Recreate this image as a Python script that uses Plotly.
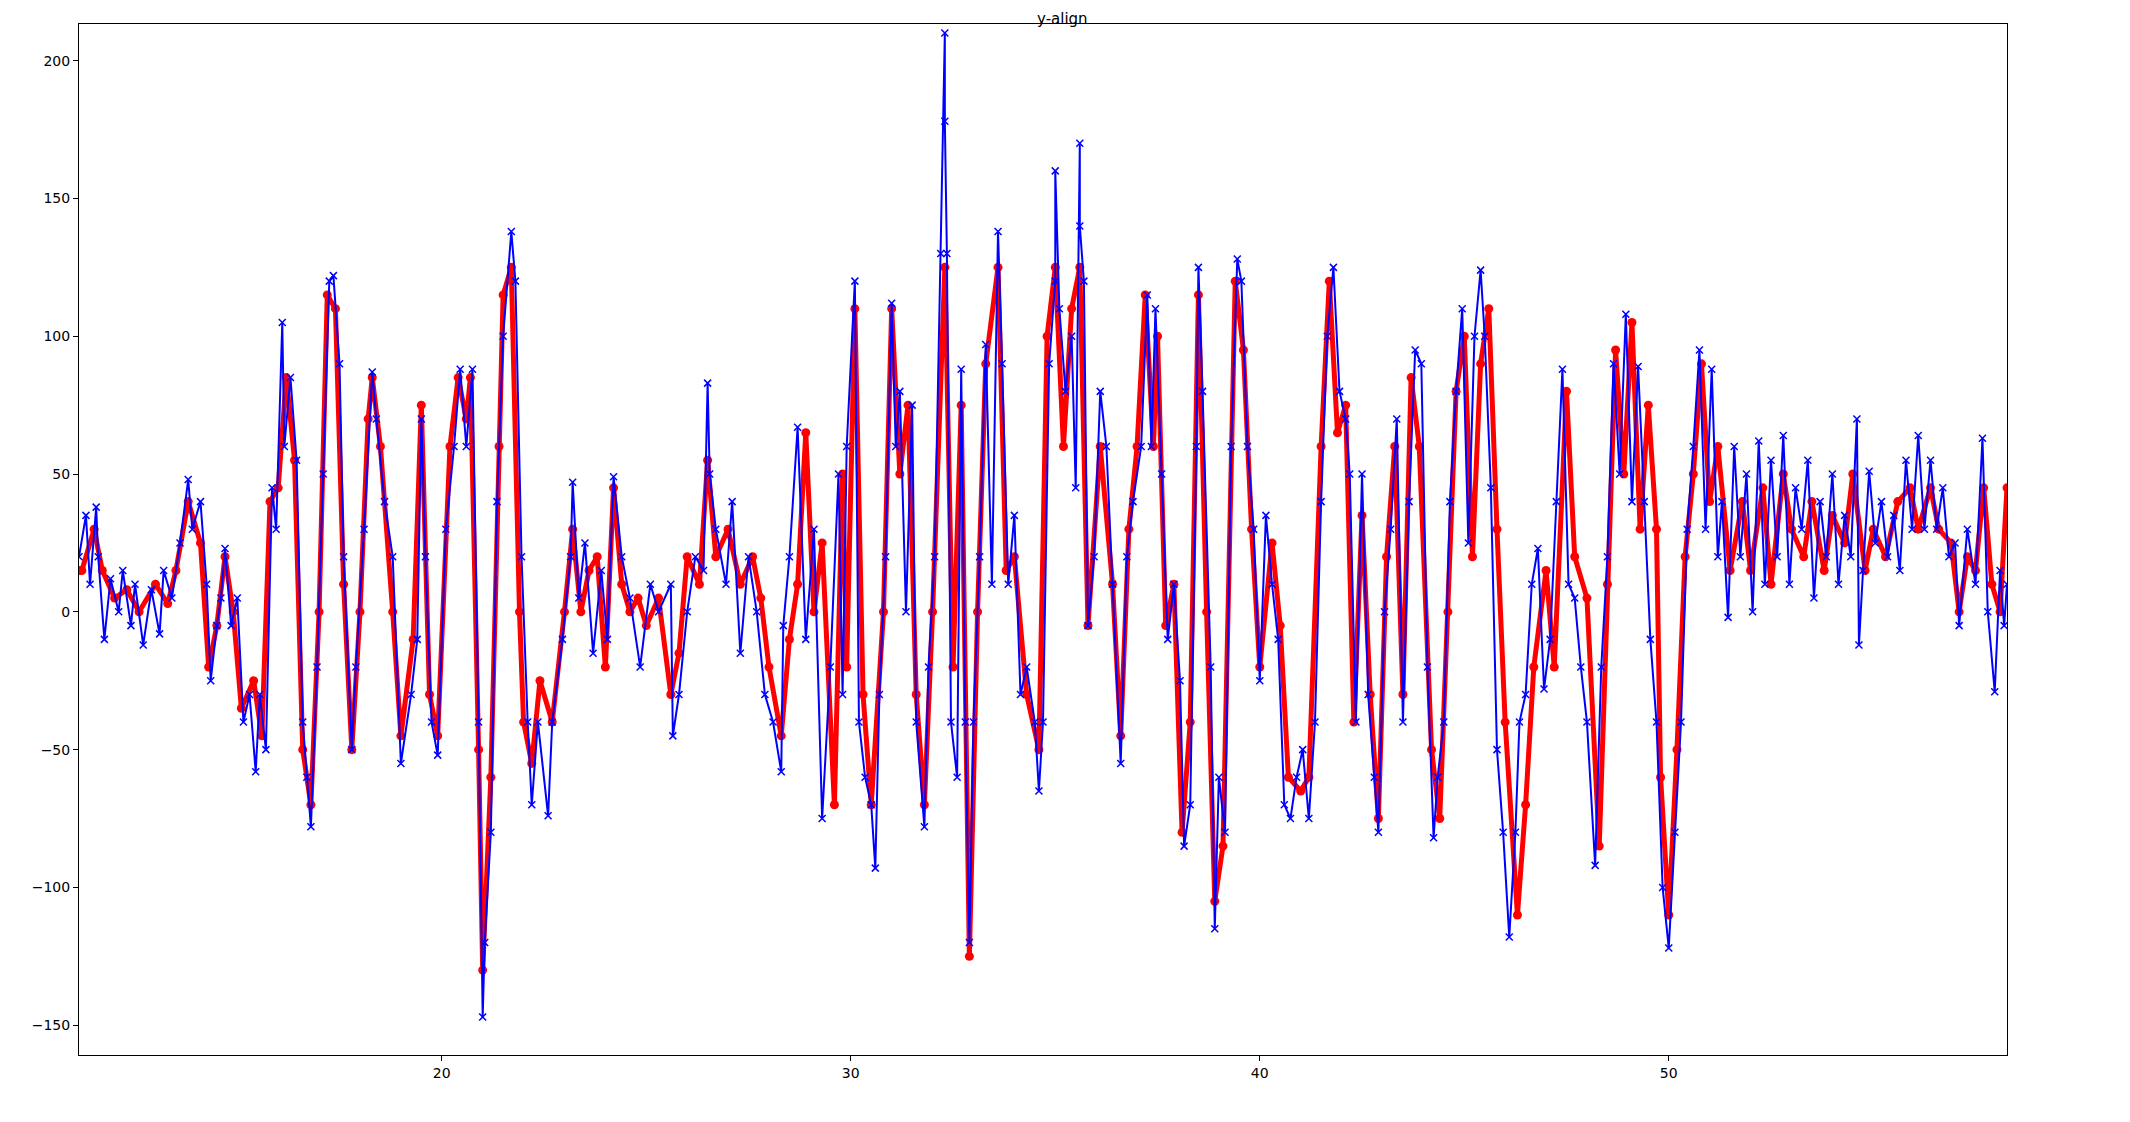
import plotly.graph_objects as go

red_x = [11.13,11.2,11.5,11.7,12.0,12.3,12.6,13.0,13.3,13.5,13.8,14.1,14.3,14.5,14.7,14.9,15.1,15.4,15.6,15.8,16.0,16.2,16.4,16.6,16.8,17.0,17.2,17.4,17.6,17.8,18.0,18.2,18.3,18.5,18.8,19.0,19.3,19.5,19.7,19.9,20.2,20.4,20.6,20.7,20.9,21.0,21.2,21.4,21.5,21.7,21.9,22.0,22.2,22.4,22.7,23.0,23.2,23.4,23.6,23.8,24.0,24.2,24.4,24.6,24.8,25.0,25.3,25.6,25.8,26.0,26.3,26.5,26.7,27.0,27.3,27.6,27.8,28.0,28.3,28.5,28.7,28.9,29.1,29.3,29.6,29.8,29.9,30.1,30.3,30.5,30.8,31.0,31.2,31.4,31.6,31.8,32.0,32.3,32.5,32.7,32.9,33.1,33.3,33.6,33.8,34.0,34.3,34.6,34.8,35.0,35.2,35.4,35.6,35.8,36.1,36.4,36.6,36.8,37.0,37.2,37.4,37.5,37.7,37.9,38.1,38.3,38.5,38.7,38.9,39.1,39.4,39.6,39.8,40.0,40.3,40.5,40.7,41.0,41.2,41.5,41.7,41.9,42.1,42.3,42.5,42.7,42.9,43.1,43.3,43.5,43.7,43.9,44.2,44.4,44.6,44.8,45.0,45.2,45.4,45.6,45.8,46.0,46.3,46.5,46.7,47.0,47.2,47.5,47.7,48.0,48.3,48.5,48.7,48.9,49.1,49.3,49.5,49.7,49.8,50.0,50.2,50.4,50.6,50.8,51.0,51.2,51.5,51.8,52.0,52.3,52.5,52.8,53.0,53.3,53.5,53.8,54.0,54.3,54.5,54.8,55.0,55.3,55.6,55.9,56.1,56.4,56.6,56.9,57.1,57.3,57.5,57.7,57.9,58.1,58.27]
red_y = [15,15,30,15,5,8,0,10,3,15,40,25,-20,-5,20,0,-35,-25,-45,40,45,85,55,-50,-70,0,115,110,10,-50,0,70,85,60,0,-45,-10,75,-30,-45,60,85,70,85,-50,-130,-60,60,115,125,0,-40,-55,-25,-40,0,30,0,15,20,-20,45,10,0,5,-5,5,-30,-15,20,10,55,20,30,10,20,5,-20,-45,-10,10,65,0,25,-70,50,-20,110,-30,-70,0,110,50,75,-30,-70,0,125,-20,75,-125,0,90,125,15,20,-30,-50,100,125,60,110,125,-5,60,10,-45,30,60,115,60,100,-5,10,-80,-40,115,0,-105,-85,120,95,30,-20,25,-5,-60,-65,-60,60,120,65,75,-40,35,-30,-75,20,60,-30,85,60,-50,-75,0,80,100,20,90,110,30,-40,-110,-70,-20,15,-20,80,20,5,-85,10,95,50,105,30,75,30,-60,-110,-50,20,50,90,40,60,15,40,15,45,10,50,30,20,40,15,35,25,50,15,30,20,40,45,30,45,30,25,0,20,15,45,10,0,45]

blue_pts = [
 (11.13,20),(11.3,35),(11.4,10),(11.55,38),(11.6,20),(11.75,-10),(11.9,12),(12.1,0),(12.2,15),(12.4,-5),
 (12.5,10),(12.7,-12),(12.9,8),(13.1,-8),(13.2,15),(13.4,5),(13.6,25),(13.8,48),(13.9,30),(14.1,40),
 (14.25,10),(14.35,-25),(14.5,-5),(14.6,5),(14.7,23),(14.85,-5),(15.0,5),(15.15,-40),(15.3,-30),(15.45,-58),
 (15.55,-30),(15.7,-50),(15.85,45),(15.95,30),(16.1,105),(16.15,60),(16.3,85),(16.45,55),(16.6,-40),(16.7,-60),
 (16.8,-78),(16.95,-20),(17.1,50),(17.25,120),(17.35,122),(17.5,90),(17.6,20),(17.8,-50),(17.9,-20),(18.1,30),
 (18.3,87),(18.4,70),(18.6,40),(18.8,20),(19.0,-55),(19.25,-30),(19.4,-10),(19.5,70),(19.6,20),(19.75,-40),
 (19.9,-52),(20.1,30),(20.3,60),(20.45,88),(20.6,60),(20.75,88),(20.9,-40),(21.0,-147),(21.05,-120),(21.2,-80),
 (21.35,40),(21.5,100),(21.7,138),(21.8,120),(21.95,20),(22.1,-40),(22.2,-70),(22.35,-40),(22.6,-74),(22.7,-40),
 (22.95,-10),(23.15,20),(23.2,47),(23.35,5),(23.5,25),(23.7,-15),(23.9,15),(24.05,-10),(24.2,49),(24.4,20),
 (24.6,5),(24.85,-20),(25.1,10),(25.3,0),(25.6,10),(25.65,-45),(25.8,-30),(26.0,0),(26.2,20),(26.4,15),
 (26.5,83),(26.55,50),(26.7,30),(26.95,10),(27.1,40),(27.3,-15),(27.5,20),(27.7,0),(27.9,-30),(28.1,-40),
 (28.3,-58),(28.35,-5),(28.5,20),(28.7,67),(28.9,-10),(29.1,30),(29.3,-75),(29.5,-20),(29.7,50),(29.8,-30),
 (29.9,60),(30.1,120),(30.2,-40),(30.35,-60),(30.5,-70),(30.6,-93),(30.7,-30),(30.85,20),(31.0,112),(31.1,60),
 (31.2,80),(31.35,0),(31.5,75),(31.6,-40),(31.8,-78),(31.9,-20),(32.05,20),(32.2,130),(32.3,210),(32.3,178),
 (32.35,130),(32.45,-40),(32.6,-60),(32.7,88),(32.8,-40),(32.9,-120),(33.0,-40),(33.15,20),(33.3,97),(33.45,10),
 (33.6,138),(33.7,90),(33.85,10),(34.0,35),(34.15,-30),(34.3,-20),(34.5,-40),(34.6,-65),(34.7,-40),(34.85,90),
 (35.0,120),(35.0,160),(35.1,110),(35.25,80),(35.4,100),(35.5,45),(35.6,170),(35.6,140),(35.7,120),(35.8,-5),
 (35.95,20),(36.1,80),(36.25,60),(36.4,10),(36.6,-55),(36.75,20),(36.9,40),(37.1,60),(37.25,115),(37.35,60),
 (37.45,110),(37.6,50),(37.75,-10),(37.9,10),(38.05,-25),(38.15,-85),(38.3,-70),(38.45,60),(38.5,125),(38.6,80),
 (38.8,-20),(38.9,-115),(39.0,-60),(39.15,-80),(39.3,60),(39.45,128),(39.55,120),(39.7,60),(39.85,30),(40.0,-25),
 (40.15,35),(40.3,10),(40.45,-10),(40.6,-70),(40.75,-75),(40.9,-60),(41.05,-50),(41.2,-75),(41.35,-40),(41.5,40),
 (41.65,100),(41.8,125),(41.95,80),(42.1,70),(42.2,50),(42.35,-40),(42.5,50),(42.65,-30),(42.8,-60),(42.9,-80),
 (43.05,0),(43.2,30),(43.35,70),(43.5,-40),(43.65,40),(43.8,95),(43.95,90),(44.1,-20),(44.25,-82),(44.35,-60),
 (44.5,-40),(44.65,40),(44.8,80),(44.95,110),(45.1,25),(45.25,100),(45.4,124),(45.5,100),(45.65,45),(45.8,-50),
 (45.95,-80),(46.1,-118),(46.25,-80),(46.35,-40),(46.5,-30),(46.65,10),(46.8,23),(46.95,-28),(47.1,-10),(47.25,40),
 (47.4,88),(47.55,10),(47.7,5),(47.85,-20),(48.0,-40),(48.2,-92),(48.35,-20),(48.5,20),(48.65,90),(48.8,50),
 (48.95,108),(49.1,40),(49.25,89),(49.4,40),(49.55,-10),(49.7,-40),(49.85,-100),(50.0,-122),(50.15,-80),(50.3,-40),
 (50.45,30),(50.6,60),(50.75,95),(50.9,30),(51.05,88),(51.2,20),(51.3,40),(51.45,-2),(51.6,60),(51.75,20),
 (51.9,50),(52.05,0),(52.2,62),(52.35,10),(52.5,55),(52.65,20),(52.8,64),(52.95,10),(53.1,45),(53.25,30),
 (53.4,55),(53.55,5),(53.7,40),(53.85,20),(54.0,50),(54.15,10),(54.3,35),(54.45,20),(54.6,70),(54.65,-12),
 (54.75,15),(54.9,51),(55.05,25),(55.2,40),(55.35,20),(55.5,35),(55.65,15),(55.8,55),(55.95,30),(56.1,64),
 (56.25,30),(56.4,55),(56.55,30),(56.7,45),(56.85,20),(57.0,25),(57.1,-5),(57.3,30),(57.5,10),(57.67,63),
 (57.8,0),(57.97,-29),(58.1,15),(58.2,-5),(58.27,10),
]
blue_x = [p[0] for p in blue_pts]
blue_y = [p[1] for p in blue_pts]

fig = go.Figure()
fig.add_trace(go.Scatter(x=red_x, y=red_y, mode="lines+markers",
    line=dict(color="red", width=5), marker=dict(color="red", size=9, symbol="circle"), showlegend=False))
fig.add_trace(go.Scatter(x=blue_x, y=blue_y, mode="lines+markers",
    line=dict(color="blue", width=2), marker=dict(color="blue", size=7, symbol="x-thin", line=dict(color="blue", width=1.5)), showlegend=False))

fig.update_layout(
    width=2130, height=1122, paper_bgcolor="white", plot_bgcolor="white",
    margin=dict(l=71, r=131, t=16, b=75),
    title=dict(text="y-align", x=0.495, xanchor="center", yref="paper", y=1, yanchor="bottom",
               pad=dict(b=0), font=dict(size=15, color="black")),
    font=dict(family="DejaVu Sans", size=14, color="black"),
)
axis = dict(showgrid=False, zeroline=False, showline=True, linecolor="black", linewidth=1, mirror=True,
            ticks="outside", ticklen=5, tickcolor="black")
fig.update_xaxes(range=[11.13, 58.27], tickvals=[20,30,40,50], **axis)
fig.update_yaxes(range=[-160.8, 213.3], tickvals=[-150,-100,-50,0,50,100,150,200], **axis)
fig.write_html("out.html")
